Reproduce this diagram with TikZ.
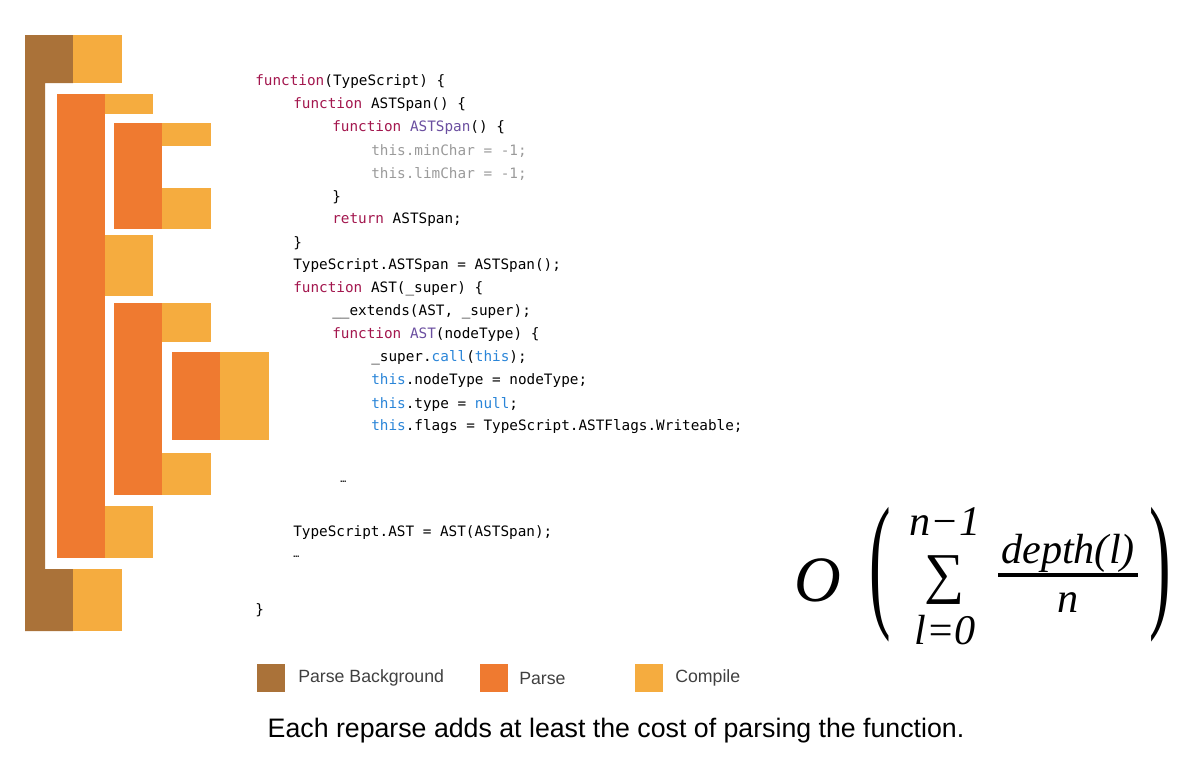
\documentclass[tikz,border=0pt]{standalone}
\usepackage{fontspec}
\setmainfont{Liberation Sans}
\newfontfamily\codefont{DejaVu Sans Mono}
\newfontfamily\mathfnt{Liberation Serif}
\begin{document}
\begin{tikzpicture}[x=0.025cm,y=-0.025cm,
  bg/.style={fill=bgc,draw=none},
  pr/.style={fill=prc,draw=none},
  cp/.style={fill=cpc,draw=none},
  code/.style={anchor=west,inner sep=0,font=\codefont\fontsize{10.2}{12}\selectfont},
  leg/.style={anchor=west,inner sep=0,font=\fontsize{12.6}{14}\selectfont,text=black!75},
  fm/.style={inner sep=0,font=\mathfnt\itshape\fontsize{#1}{#1}\selectfont}]
\definecolor{bgc}{HTML}{AA7239}
\definecolor{prc}{HTML}{EF7A30}
\definecolor{cpc}{HTML}{F5AC3F}
\definecolor{kw}{HTML}{A3174E}
\definecolor{fn}{HTML}{6B4FA0}
\definecolor{gr}{HTML}{9A9A9A}
\definecolor{bl}{HTML}{2A85D8}
\useasboundingbox (0,0) rectangle (1200,764);
% bars
\fill[bg] (25,35) -- (73,35) -- (73,83) -- (45,83) -- (45,569) -- (73,569) -- (73,631) -- (25,631) -- cycle;
\fill[cp] (73,35) rectangle (122,83);
\fill[cp] (73,569) rectangle (122,631);
\fill[pr] (57,94) rectangle (105,558);
\fill[cp] (105,94) rectangle (153,114);
\fill[cp] (105,235) rectangle (153,296);
\fill[cp] (105,506) rectangle (153,558);
\fill[pr] (114,123) rectangle (162,229);
\fill[cp] (162,123) rectangle (211,146);
\fill[cp] (162,188) rectangle (211,229);
\fill[pr] (114,303) rectangle (162,495);
\fill[cp] (162,303) rectangle (211,342);
\fill[cp] (162,453) rectangle (211,495);
\fill[pr] (172,352) rectangle (220,440);
\fill[cp] (220,352) rectangle (269,440);
% code
\node[code] (c1) at (255,82) {\textcolor{kw}{function}(TypeScript) \{};
\node[code] (c2) at (293,105) {\textcolor{kw}{function} ASTSpan() \{};
\node[code] (c3) at (332,128) {\textcolor{kw}{function} \textcolor{fn}{ASTSpan}() \{};
\node[code,text=gr] (c4) at (371,151) {this.minChar = -1;};
\node[code,text=gr] (c5) at (371,174) {this.limChar = -1;};
\node[code] (c6) at (332,197) {\}};
\node[code] (c7) at (332,220) {\textcolor{kw}{return} ASTSpan;};
\node[code] (c8) at (293,243) {\}};
\node[code] (c9) at (293,266) {TypeScript.ASTSpan = ASTSpan();};
\node[code] (c10) at (293,289) {\textcolor{kw}{function} AST(\_super) \{};
\node[code] (c11) at (332,312) {\_\_extends(AST, \_super);};
\node[code] (c12) at (332,335) {\textcolor{kw}{function} \textcolor{fn}{AST}(nodeType) \{};
\node[code] (c13) at (371,358) {\_super.\textcolor{bl}{call}(\textcolor{bl}{this});};
\node[code] (c14) at (371,381) {\textcolor{bl}{this}.nodeType = nodeType;};
\node[code] (c15) at (371,404) {\textcolor{bl}{this}.type = \textcolor{bl}{null};};
\node[code] (c16) at (371,427) {\textcolor{bl}{this}.flags = TypeScript.ASTFlags.Writeable;};
\node[code] (c17) at (340,482) {\fontsize{7}{8}\selectfont …};
\node[code] (c18) at (293,533) {TypeScript.AST = AST(ASTSpan);};
\node[code] (c19) at (293,557) {\fontsize{7}{8}\selectfont …};
\node[code] (c20) at (255,610) {\}};
% formula
\node[fm=46] (fO) at (818,580) {O};
\node[fm=46,font=\mathfnt\fontsize{46}{46}\selectfont] (fpl) at (880,575) {\scalebox{1}[2.3]{(}};
\node[fm=30] (fup) at (945,522) {n−1};
\node[inner sep=0,font=\mathfnt\fontsize{40}{40}\selectfont] (fsum) at (945,580) {∑};
\node[fm=30] (flo) at (945,630) {l=0};
\node[fm=30] (fnum) at (1068,553) {depth(l)};
\draw[line width=2.2pt] (998,575) -- (1138,575);
\node[fm=30] (fden) at (1068,603) {n};
\node[fm=46,font=\mathfnt\fontsize{46}{46}\selectfont] (fpr) at (1160,575) {\scalebox{1}[2.3]{)}};
% legend
\fill[bg] (257,664) rectangle (285,692);
\node[leg] (l1) at (298,678) {Parse Background};
\fill[pr] (480,664) rectangle (508,692);
\node[leg] (l2) at (519,678) {Parse};
\fill[cp] (635,664) rectangle (663,692);
\node[leg] (l3) at (675,678) {Compile};
\node[inner sep=0,font=\fontsize{19}{22}\selectfont] (cap) at (616,731) {Each reparse adds at least the cost of parsing the function.};
\end{tikzpicture}
\end{document}
